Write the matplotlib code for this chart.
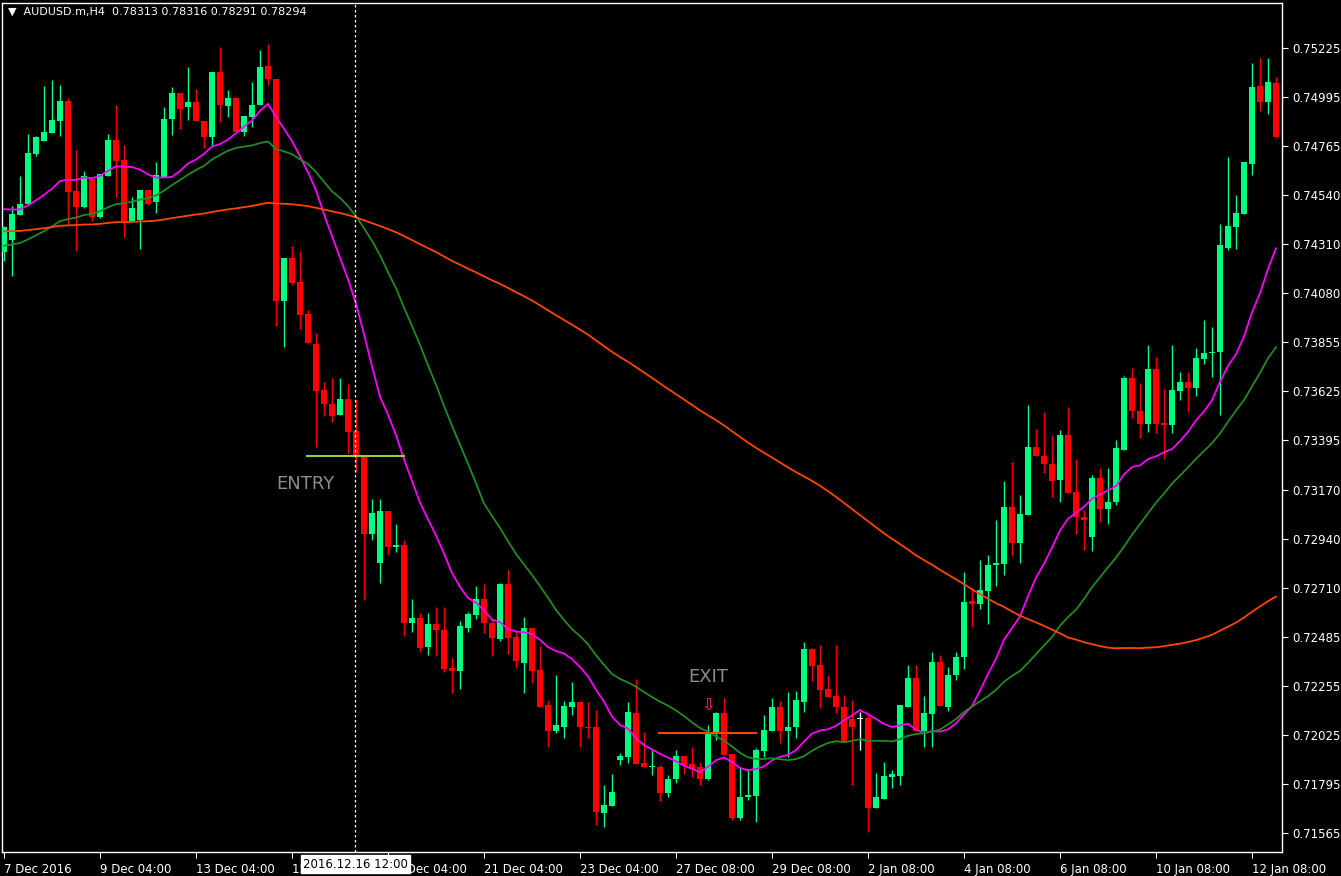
import matplotlib
matplotlib.use("Agg")
import matplotlib.pyplot as plt
import numpy as np
import pandas as pd

# H4 candles, prices in points (1e-5)
opens = [74274, 74330, 74447, 74498, 74731, 74792, 74829, 74885, 74978, 74558,
         74484, 74614, 74437, 74628, 74796, 74703, 74419, 74423, 74563, 74507,
         74624, 74894, 75015, 74950, 74973, 74885, 74810, 75113, 74955, 74992,
         74834, 74903, 74959, 75141, 75081, 74046, 74246, 74134, 73985, 73845,
         73631, 73565, 73514, 73589, 73440, 73318, 72959, 72824, 73066, 72899,
         72908, 72544, 72568, 72432, 72540, 72512, 72334, 72320, 72521, 72582,
         72656, 72544, 72470, 72726, 72479, 72358, 72521, 72325, 72162, 72041,
         72059, 72153, 72176, 72059, 72059, 71658, 71691, 71906, 71920, 72125,
         71892, 71873, 71873, 71752, 71817, 71924, 71887, 71873, 71817, 72027,
         72125, 71934, 71635, 71733, 71738, 71948, 72041, 72153, 72041, 72059,
         72176, 72423, 72349, 72237, 72204, 72153, 72097, 72097, 72101, 71682,
         71724, 71826, 71831, 72153, 72288, 72041, 72120, 72362, 72153, 72302,
         72386, 72647, 72633, 72694, 72815, 72819, 73085, 72917, 73048, 73365,
         73323, 73286, 73211, 73421, 73155, 73038, 72945, 73220, 73076, 73108,
         73351, 73687, 73533, 73472, 73729, 73477, 73467, 73626, 73668, 73640,
         73775, 73803, 73808, 74293, 74391, 74451, 74684, 75048, 74973, 75062]
closes = [74391, 74451, 74498, 74736, 74810, 74834, 74890, 74978, 74554, 74484,
          74628, 74437, 74638, 74796, 74698, 74419, 74479, 74563, 74498, 74633,
          74894, 75015, 74941, 74973, 74885, 74810, 75113, 74959, 74992, 74834,
          74908, 74959, 75137, 75081, 74046, 74246, 74129, 73980, 73850, 73626,
          73565, 73509, 73589, 73435, 73318, 72959, 73057, 73066, 72899, 72908,
          72544, 72568, 72428, 72540, 72512, 72330, 72320, 72530, 72586, 72656,
          72544, 72474, 72726, 72474, 72367, 72521, 72320, 72153, 72041, 72069,
          72157, 72176, 72059, 72055, 71663, 71696, 71756, 71924, 72129, 71887,
          71873, 71878, 71752, 71817, 71924, 71882, 71864, 71817, 72031, 72125,
          71929, 71635, 71733, 71742, 71952, 72045, 72153, 72041, 72059, 72185,
          72423, 72344, 72232, 72199, 72153, 71990, 72059, 72097, 71682, 71733,
          71831, 71840, 72162, 72288, 72041, 72125, 72362, 72157, 72302, 72386,
          72642, 72633, 72698, 72815, 72824, 73085, 72917, 73052, 73365, 73323,
          73286, 73206, 73421, 73150, 73038, 73025, 73220, 73076, 73108, 73360,
          73687, 73533, 73472, 73729, 73472, 73467, 73631, 73668, 73640, 73780,
          73803, 73808, 74307, 74395, 74456, 74694, 75043, 74973, 75067, 74810]
highs = [74395, 74489, 74628, 74824, 74815, 75048, 75076, 75053, 74992, 74750,
         74652, 74619, 74638, 74824, 74959, 74773, 74530, 74563, 74563, 74694,
         74950, 75043, 75015, 75137, 75034, 74885, 75113, 75230, 75029, 74992,
         74908, 75067, 75216, 75244, 75081, 74246, 74302, 74279, 74004, 73896,
         73668, 73687, 73687, 73659, 73589, 73318, 73122, 73122, 73066, 73006,
         72931, 72656, 72591, 72591, 72619, 72619, 72381, 72554, 72596, 72717,
         72726, 72558, 72731, 72791, 72512, 72572, 72521, 72437, 72185, 72302,
         72181, 72269, 72176, 72176, 72139, 71789, 71840, 71938, 72176, 72283,
         72036, 71952, 71882, 71836, 71952, 71924, 71966, 71896, 72069, 72129,
         72195, 71934, 71873, 71859, 71961, 72115, 72195, 72181, 72223, 72227,
         72456, 72428, 72442, 72302, 72442, 72209, 72185, 72129, 72115, 71845,
         71896, 71859, 72162, 72349, 72349, 72204, 72409, 72395, 72339, 72409,
         72782, 72708, 72838, 72861, 73025, 73206, 73295, 73141, 73561, 73449,
         73528, 73421, 73444, 73551, 73309, 73071, 73234, 73267, 73267, 73397,
         73696, 73733, 73663, 73840, 73784, 73635, 73840, 73715, 73715, 73826,
         73957, 73924, 74405, 74717, 74540, 74694, 75155, 75179, 75179, 75090]
lows = [74232, 74162, 74447, 74498, 74722, 74792, 74829, 74815, 74400, 74279,
        74479, 74419, 74433, 74628, 74530, 74344, 74414, 74288, 74493, 74456,
        74624, 74820, 74848, 74890, 74885, 74759, 74764, 74880, 74903, 74834,
        74815, 74857, 74959, 75053, 73929, 73831, 74120, 73915, 73850, 73365,
        73509, 73481, 73514, 73337, 73248, 72652, 72931, 72731, 72861, 72875,
        72484, 72502, 72409, 72395, 72390, 72316, 72218, 72237, 72502, 72563,
        72498, 72390, 72460, 72400, 72334, 72218, 72265, 72153, 71966, 72031,
        72008, 72115, 71966, 72008, 71602, 71593, 71691, 71882, 71892, 71887,
        71873, 71836, 71714, 71733, 71798, 71840, 71826, 71789, 71812, 71999,
        71929, 71626, 71626, 71719, 71616, 71920, 72041, 71985, 71920, 72008,
        72129, 72274, 72148, 72199, 72125, 71990, 71789, 71952, 71570, 71682,
        71724, 71775, 71789, 72153, 72041, 71966, 71966, 72157, 72134, 72279,
        72330, 72526, 72610, 72540, 72717, 72768, 72857, 72824, 73048, 73323,
        73244, 73132, 73108, 73150, 72959, 72885, 72880, 73015, 73006, 73094,
        73351, 73500, 73407, 73435, 73430, 73309, 73430, 73584, 73528, 73603,
        73752, 73691, 73514, 74283, 74288, 74451, 74633, 74931, 74917, 74810]

# simple moving averages: (period, level before the first candle, colour)
ma_specs = [(14, 0.74480, "#ff00ff"), (27, 0.74300, "#228b22"), (100, 0.74370, "#ff4500")]

x_labels = ["7 Dec 2016", "9 Dec 04:00", "13 Dec 04:00", "15 Dec 04:00", "19 Dec 04:00",
            "21 Dec 04:00", "23 Dec 04:00", "27 Dec 08:00", "29 Dec 08:00", "2 Jan 08:00",
            "4 Jan 08:00", "6 Jan 08:00", "10 Jan 08:00", "12 Jan 08:00"]
y_labels = ["0.75225", "0.74995", "0.74765", "0.74540", "0.74310", "0.74080", "0.73855",
            "0.73625", "0.73395", "0.73170", "0.72940", "0.72710", "0.72485", "0.72255",
            "0.72025", "0.71795", "0.71565"]

o = np.array(opens) / 1e5
c = np.array(closes) / 1e5
h = np.array(highs) / 1e5
l = np.array(lows) / 1e5
n = len(o)
idx = np.arange(n)

W, H = 1341, 876
fig = plt.figure(figsize=(W / 100, H / 100), dpi=100, facecolor="black")
ax = fig.add_axes([2 / W, 24 / H, 1280 / W, 849 / H], facecolor="black")

up = c > o
doji = np.isclose(c, o)
cols = np.where(doji, "white", np.where(up, "#00ff7f", "#ff0000"))
ax.vlines(idx, l, h, colors=cols, linewidth=1, zorder=3)
body_lo = np.minimum(o, c)
body_h = np.maximum(np.abs(c - o), 0.00003)
ax.bar(idx, body_h, bottom=body_lo, width=0.65, color=cols, linewidth=0, zorder=4)

close_s = pd.Series(c)
for period, seed, col in ma_specs:
    s = pd.concat([pd.Series([seed] * (period - 1)), close_s], ignore_index=True)
    sma = s.rolling(period).mean().iloc[period - 1:].values
    ax.plot(idx, sma, color=col, linewidth=1.3, zorder=5)

# entry / exit marks
ax.plot([37.9, 50], [0.73323, 0.73323], color="#9acd32", linewidth=1.5, zorder=6)
ax.text(34, 0.7319, "ENTRY", color="#8c8c8c", fontsize=13, va="center", ha="left")
ax.plot([81.9, 94], [0.7203, 0.7203], color="#ff4500", linewidth=1.5, zorder=6)
ax.text(88, 0.7229, "EXIT", color="#8c8c8c", fontsize=13, va="center", ha="center")
ax.text(88, 0.72165, "⇩", color="#ff2080", fontsize=12, va="center", ha="center")

# crosshair line
ax.axvline(43.9, color="white", linestyle=(0, (2, 2)), linewidth=0.9, zorder=7)

ax.set_xlim(-0.25, 159.75)
ax.set_ylim(0.71476, 0.75435)

yt = np.linspace(0.75225, 0.71565, len(y_labels))
ax.yaxis.tick_right()
ax.set_yticks(yt)
ax.set_yticklabels(y_labels)
ax.set_xticks(np.arange(0, n, 12))
ax.set_xticklabels(x_labels, ha="left")
ax.tick_params(colors="white", labelsize=8.5, length=4, width=0.8, direction="out")
ax.tick_params(axis="x", pad=4)
for sp in ax.spines.values():
    sp.set_color("white")
    sp.set_linewidth(1)

ax.text(43.9, 0.71476 - 0.00026, "2016.12.16 12:00", color="black", fontsize=8.5,
        ha="center", va="top", bbox=dict(facecolor="white", edgecolor="white", pad=1.5),
        zorder=10, clip_on=False)

fig.text(8 / W, 1 - 12 / H, "▼  AUDUSD.m,H4  0.78313 0.78316 0.78291 0.78294",
         color="white", fontsize=8, va="center", ha="left")

fig.savefig("out.png", dpi=100, facecolor="black")
